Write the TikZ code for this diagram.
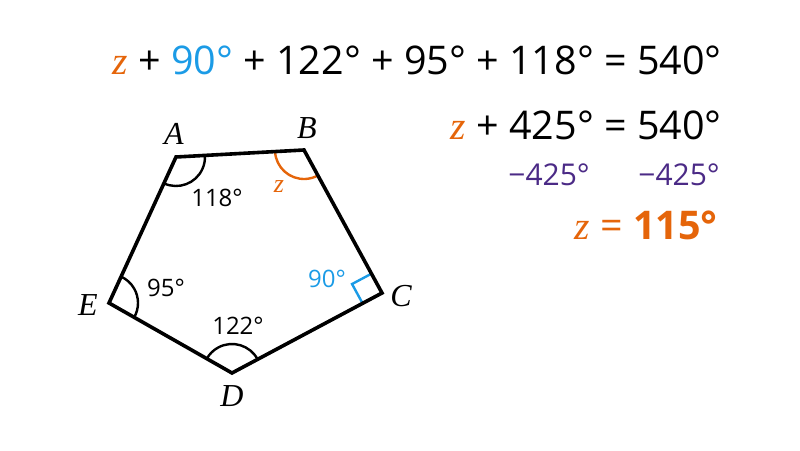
\documentclass[tikz,border=0pt]{standalone}
\usepackage{fontspec}
\setmainfont{Open Sans}
\newfontfamily\varfont{Liberation Serif}
\usetikzlibrary{angles,calc}
\definecolor{zorange}{HTML}{E5650A}
\definecolor{ablue}{HTML}{1B9BE6}
\definecolor{mpurple}{HTML}{4B2A86}
\newcommand{\zvar}{{\varfont\itshape\color{zorange}z}}
\begin{document}
\begin{tikzpicture}[x=1pt,y=1pt,
  edge/.style={line width=3.6pt,line join=miter},
  anglemark/.style={draw,line width=2.4pt,angle radius=29pt},
  vlabel/.style={font=\varfont\itshape\fontsize{32}{32}\selectfont},
  alabel/.style={font=\fontsize{24}{24}\selectfont},
  eqbig/.style={anchor=base east,inner sep=0pt,font=\fontsize{39.5}{40}\selectfont},
  eqsmall/.style={anchor=base east,inner sep=0pt,font=\fontsize{30}{30}\selectfont,text=mpurple}]
\useasboundingbox (0,0) rectangle (800,450);
\coordinate (A) at (176,293);
\coordinate (B) at (304,300);
\coordinate (C) at (382,157);
\coordinate (D) at (232,77);
\coordinate (E) at (109,147);
% angle marks
\pic[anglemark] {angle = E--A--B};
\pic[anglemark,draw=zorange] {angle = A--B--C};
\pic[anglemark] {angle = C--D--E};
\pic[anglemark] {angle = D--E--A};
\path ($(C)!22pt!(B)$) coordinate (c1) ($(C)!22pt!(D)$) coordinate (c2);
\draw[ablue,line width=2.4pt] (c1) -- ($(c1)+(c2)-(C)$) -- (c2);
% pentagon
\draw[edge] (A) -- (B) -- (C) -- (D) -- (E) -- cycle;
% vertex labels
\node[vlabel] (lA) at (174,316) {A};
\node[vlabel] (lB) at (307,322) {B};
\node[vlabel] (lC) at (401,154) {C};
\node[vlabel] (lE) at (88,145) {E};
\node[vlabel] (lD) at (232,54) {D};
% angle labels
\node[alabel] (a118) at (217,252) {118°};
\node[font=\varfont\itshape\fontsize{26}{26}\selectfont,text=zorange] (az) at (279,263) {z};
\node[alabel] (a95) at (166,162) {95°};
\node[alabel] (a122) at (238,124) {122°};
\node[alabel,text=ablue] (a90) at (327,171) {90°};
% equations
\node[eqbig] (eq1) at (722,375) {\zvar\ + {\color{ablue}90°} + 122° + 95° + 118° = 540°};
\node[eqbig] (eq2) at (722,310) {\zvar\ + 425° = 540°};
\node[eqsmall] (eq3a) at (590,264) {−425°};
\node[eqsmall] (eq3b) at (720,264) {−425°};
\node[eqbig,text=zorange] (eq4) at (718,210) {\zvar\ = \textbf{115°}};
\end{tikzpicture}
\end{document}
